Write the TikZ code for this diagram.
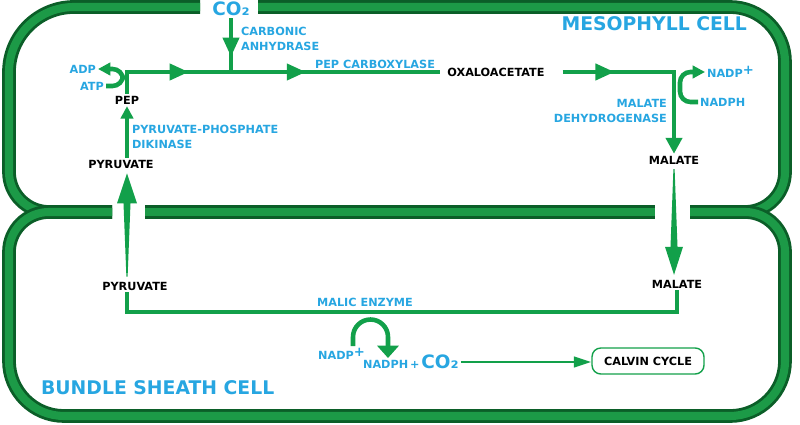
\documentclass[tikz,border=0pt]{standalone}
\usepackage{fontspec}
\setmainfont{DejaVu Sans}
\usetikzlibrary{arrows.meta,decorations.markings,calc}
\definecolor{flowgreen}{HTML}{12A04A}
\definecolor{labelblue}{HTML}{27A6E1}
\definecolor{memgreen}{HTML}{1C9A47}
\definecolor{memdark}{HTML}{0B5E28}
\newcommand{\lblsize}{\fontsize{6.4}{9}\selectfont\bfseries}
\newcommand{\plussup}{\raisebox{0.6ex}{\fontsize{7.5}{7.5}\selectfont +}}
\tikzset{
  metab/.style={font=\lblsize, text=black, inner sep=1pt},
  enzyme/.style={font=\lblsize, text=labelblue, inner sep=1pt},
  cofactor/.style={font=\lblsize, text=labelblue, inner sep=1pt},
  cellname/.style={font=\fontsize{10.7}{12}\selectfont\bfseries, text=labelblue, inner sep=1pt},
  flow/.style={draw=flowgreen, line width=2.6pt},
  flowtip/.style={-{Triangle[length=#1,width=#1]}},
  membrane/.style={draw=memdark, line width=1.6pt, double=memgreen, double distance=4.6pt},
  midarrow/.style={postaction={decorate, decoration={markings,
    mark=at position #1 with {\arrow{Triangle[length=11pt,width=9pt]}}}}}
}

\begin{document}
\begin{tikzpicture}[x=0.02cm, y=-0.02cm]
\useasboundingbox (0,0) rectangle (800,425);

% cell walls
\draw[membrane] (200,7) -- (74,7) arc[start angle=90,end angle=180,radius=1.3cm]
  -- (9,172) arc[start angle=180,end angle=270,radius=0.8cm] -- (112,212);
\draw[membrane] (258,7) -- (730,7) arc[start angle=90,end angle=0,radius=1.1cm]
  -- (785,172) arc[start angle=0,end angle=-90,radius=0.8cm] -- (690,212);
\draw[membrane] (145,212) -- (655,212);
\draw[membrane] (112,212) -- (49,212) arc[start angle=90,end angle=180,radius=0.8cm]
  -- (9,361) arc[start angle=180,end angle=270,radius=1.1cm]
  -- (730,416) arc[start angle=270,end angle=360,radius=1.1cm]
  -- (785,252) arc[start angle=0,end angle=90,radius=0.8cm] -- (690,212);

% mesophyll cell
\node[font=\fontsize{10.5}{12}\selectfont\bfseries, text=labelblue, inner sep=1pt] (co2) at (231,9) {CO₂};
\node[enzyme, align=left, anchor=west] (ca) at (239,39) {CARBONIC\\ANHYDRASE};
\node[metab] (pep) at (127,100) {PEP};
\node[cofactor, anchor=east] (adp) at (98,69) {ADP};
\node[cofactor, anchor=east] (atp) at (106,86) {ATP};
\node[enzyme, align=left, anchor=west] (ppdk) at (130,137) {PYRUVATE-PHOSPHATE\\DIKINASE};
\node[metab] (pyrM) at (121,164) {PYRUVATE};
\node[enzyme] (pepc) at (375,64) {PEP CARBOXYLASE};
\node[metab, inner sep=4pt] (oaa) at (496,72) {OXALOACETATE};
\node[metab] (malM) at (674,160) {MALATE};
\node[enzyme, align=right, anchor=east] (mdh) at (669,111) {MALATE\\DEHYDROGENASE};
\node[cofactor, anchor=west] (nadpM) at (705,72) {NADP\plussup};
\node[cofactor, anchor=west] (nadphM) at (698,102) {NADPH};
\node[cellname, anchor=east] (meso) at (749,24) {MESOPHYLL CELL};

% bundle sheath cell
\node[metab] (pyrB) at (135,286) {PYRUVATE};
\node[metab] (malB) at (677,284) {MALATE};
\node[enzyme] (me) at (365,302) {MALIC ENZYME};
\node[cofactor, anchor=east] (nadpB) at (367,354) {NADP\plussup};
\node[cofactor, anchor=west] (prod) at (361,362) {NADPH\,+\,{\fontsize{10.5}{12}\selectfont CO₂}};
\node[metab, draw=flowgreen, line width=0.8pt, rounded corners=5pt,
  minimum width=2.24cm, minimum height=0.52cm] (calvin) at (648,361) {CALVIN CYCLE};
\node[cellname, anchor=west] (bundle) at (39,388) {BUNDLE SHEATH CELL};

\coordinate (hookL) at (123,69);
\coordinate (hookR) at (680,72);
\coordinate (mebase) at (127,312);
\coordinate (loopL) at (353,346);
\coordinate (loopR) at (388,358);

% carbon flow
\draw[flow, midarrow=0.72] (co2.south) -- (co2.south |- oaa.west);
\draw[flow, midarrow=0.25, midarrow=0.6] (pep.north) |- (oaa.west);
\draw[flow, midarrow=0.27, flowtip=9pt] ([xshift=6pt]oaa.east) -| (malM.north);
\draw[flow, flowtip=7pt] (pyrM.north -| pep) -- (pep.south);
\draw[flow, rounded corners=6pt, flowtip=7pt] (atp.east) -| (hookL) -- (adp.east);
\draw[flow, rounded corners=6pt, flowtip=7pt] (nadphM.west) -| (hookR) -- (nadpM.west);

% transport between the cells
\coordinate (tipP) at ($(pyrM.south -| pep)+(0,3)$);
\coordinate (tailP) at ($(pyrB.north -| pep)+(0,-3)$);
\fill[flowgreen] ($(tailP)+(-0.6,0)$) -- ($(tipP)+(-3.5,30)$) -- ++(-6.5,0) -- (tipP)
  -- ($(tipP)+(10,30)$) -- ++(-6.5,0) -- ($(tailP)+(0.6,0)$) -- cycle;
\coordinate (tipM) at ($(malB.north -| malM)+(0,-3)$);
\coordinate (tailM) at ($(malM.south)+(0,3)$);
\fill[flowgreen] ($(tailM)+(-0.6,0)$) -- ($(tipM)+(-3.5,-28)$) -- ++(-5.5,0) -- (tipM)
  -- ($(tipM)+(9,-28)$) -- ++(-5.5,0) -- ($(tailM)+(0.6,0)$) -- cycle;

\draw[flow] (pyrB.south -| pep) -- (mebase) -| (malB.south);
\draw[flow, -{Triangle[length=7pt,width=12pt]}] (loopL) -- ++(0,-9)
  arc[start angle=180,end angle=0,radius=0.35cm] -- (loopR);
\draw[flow, line width=1.7pt, -{Triangle[length=10pt,width=6pt]}] (prod.east) -- (prod.east -| calvin.west);
\end{tikzpicture}
\end{document}
